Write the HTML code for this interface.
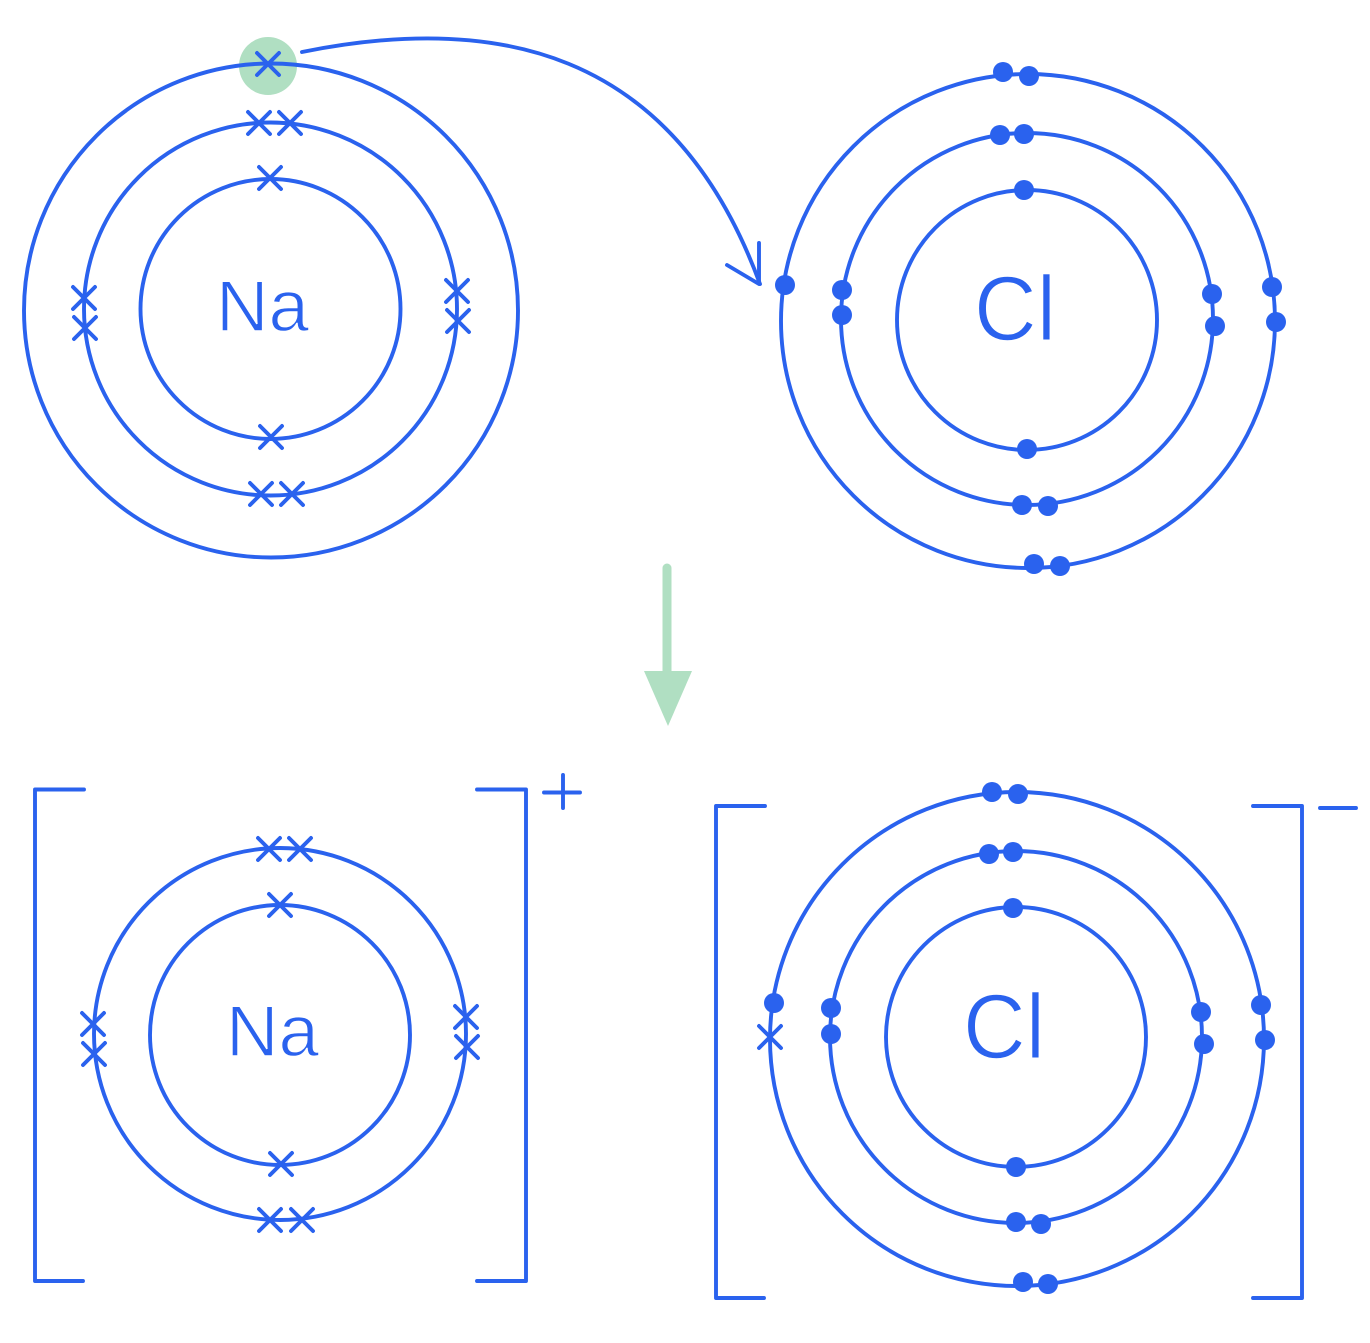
<!DOCTYPE html>
<html>
<head>
<meta charset="utf-8">
<style>
html,body{margin:0;padding:0;background:#fff}
svg{display:block}
text{font-family:"Liberation Sans",sans-serif;fill:#2a62ee;stroke:#fff;stroke-width:1.4px;paint-order:normal}
.l{fill:none;stroke:#2a62ee;stroke-width:3.9;stroke-linecap:round;stroke-linejoin:round}
.d{fill:#2a62ee}
</style>
</head>
<body>
<svg xmlns="http://www.w3.org/2000/svg" width="1370" height="1343" viewBox="0 0 1370 1343">
<defs>
<path id="x" class="l" d="M-11,-11L11,11M11,-11L-11,11"/>
</defs>
<rect width="1370" height="1343" fill="#fff"/>
<circle cx="268" cy="66" r="29" fill="#b0dfc2"/>
<g class="l">
<circle cx="271" cy="310.5" r="247"/><circle cx="270.5" cy="309" r="186.5"/><circle cx="270.5" cy="309" r="130"/>
<circle cx="1028" cy="321" r="247"/><circle cx="1027" cy="319" r="186"/><circle cx="1027" cy="320" r="130"/>
<circle cx="280" cy="1034" r="186"/><circle cx="280" cy="1035" r="130"/>
<circle cx="1017" cy="1039" r="247"/><circle cx="1016" cy="1037" r="186"/><circle cx="1016" cy="1037" r="130"/>
<path d="M302,52C490,14 672,44 760,284"/>
<path d="M759,243L759,284L727,265"/>
<path d="M84,789.5H35V1281H83"/><path d="M477,789.5H526V1281H477"/>
<path d="M544,792.5H580M563,775V808"/>
<path d="M765,806H716V1298H764"/><path d="M1253,806H1302V1298H1253"/>
<path d="M1320,808H1356"/>
</g>
<path d="M667,568V680" stroke="#b0dfc2" stroke-width="9" stroke-linecap="round" fill="none"/>
<path d="M644,671H692L668,726Z" fill="#b0dfc2"/>
<g>
<use href="#x" x="268" y="64"/><use href="#x" x="259" y="123"/><use href="#x" x="290" y="123"/><use href="#x" x="270" y="178"/>
<use href="#x" x="84" y="298"/><use href="#x" x="85" y="328"/><use href="#x" x="457" y="291"/><use href="#x" x="458" y="321"/>
<use href="#x" x="271" y="437"/><use href="#x" x="261" y="494"/><use href="#x" x="292" y="494"/>
<use href="#x" x="269" y="849"/><use href="#x" x="300" y="849"/><use href="#x" x="280" y="905"/>
<use href="#x" x="93" y="1024"/><use href="#x" x="94" y="1054"/><use href="#x" x="466" y="1017"/><use href="#x" x="467" y="1047"/>
<use href="#x" x="281" y="1164"/><use href="#x" x="270" y="1220"/><use href="#x" x="302" y="1220"/>
<use href="#x" x="770" y="1037"/>
</g>
<g class="d">
<circle cx="1003" cy="72" r="10"/><circle cx="1029" cy="76" r="10"/><circle cx="1000" cy="135" r="10"/><circle cx="1024" cy="134" r="10"/><circle cx="1024" cy="190" r="10"/>
<circle cx="785" cy="285" r="10"/><circle cx="842" cy="290" r="10"/><circle cx="842" cy="315" r="10"/><circle cx="1212" cy="294" r="10"/><circle cx="1215" cy="326" r="10"/>
<circle cx="1272" cy="287" r="10"/><circle cx="1276" cy="322" r="10"/><circle cx="1027" cy="449" r="10"/><circle cx="1022" cy="505" r="10"/><circle cx="1048" cy="506" r="10"/>
<circle cx="1034" cy="564" r="10"/><circle cx="1060" cy="566" r="10"/>
<circle cx="992" cy="792" r="10"/><circle cx="1018" cy="794" r="10"/><circle cx="989" cy="854" r="10"/><circle cx="1013" cy="852" r="10"/><circle cx="1013" cy="908" r="10"/>
<circle cx="774" cy="1003" r="10"/><circle cx="831" cy="1008" r="10"/><circle cx="831" cy="1034" r="10"/><circle cx="1201" cy="1012" r="10"/><circle cx="1204" cy="1044" r="10"/>
<circle cx="1261" cy="1005" r="10"/><circle cx="1265" cy="1040" r="10"/><circle cx="1016" cy="1167" r="10"/><circle cx="1016" cy="1222" r="10"/><circle cx="1041" cy="1224" r="10"/>
<circle cx="1023" cy="1282" r="10"/><circle cx="1048" cy="1284" r="10"/>
</g>
<text x="216" y="331" font-size="72" textLength="93" lengthAdjust="spacingAndGlyphs">Na</text>
<text x="226" y="1056" font-size="72" textLength="93" lengthAdjust="spacingAndGlyphs">Na</text>
<text x="974" y="340" font-size="92" textLength="82" lengthAdjust="spacingAndGlyphs">Cl</text>
<text x="963" y="1058" font-size="92" textLength="82" lengthAdjust="spacingAndGlyphs">Cl</text>
</svg>
</body>
</html>
